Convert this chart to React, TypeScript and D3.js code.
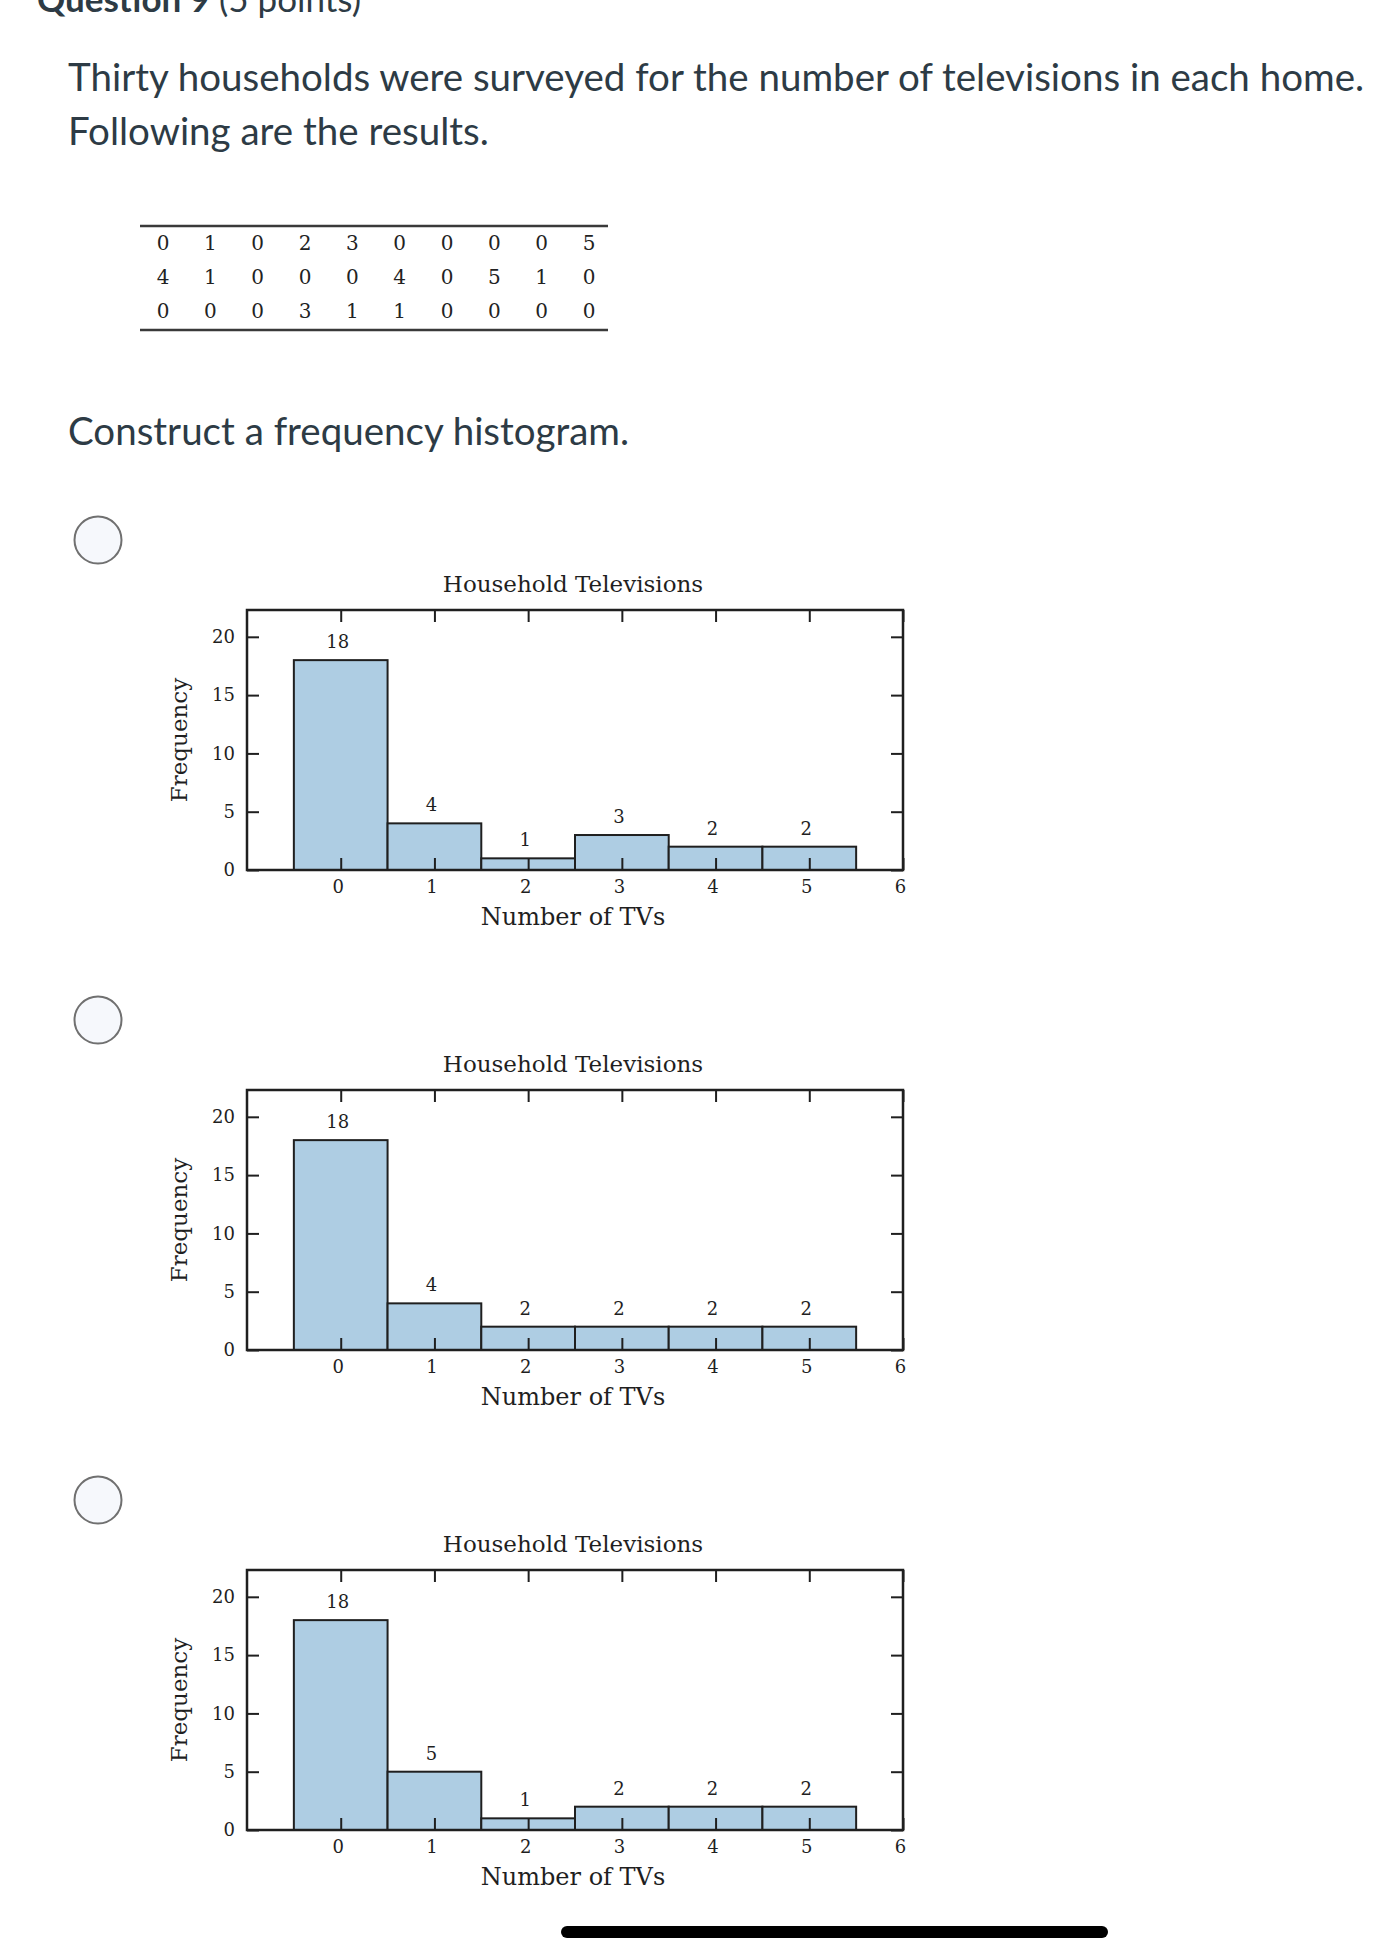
import * as d3 from 'd3';
import { useRef, useEffect } from 'react';

// survey data as printed in the question
const tableRows = [
    [0, 1, 0, 2, 3, 0, 0, 0, 0, 5],
    [4, 1, 0, 0, 0, 4, 0, 5, 1, 0],
    [0, 0, 0, 3, 1, 1, 0, 0, 0, 0],
];

// the three answer choices (frequency per number of TVs)
const tvValues = [0, 1, 2, 3, 4, 5];
const optionA = [18, 4, 1, 3, 2, 2];
const optionB = [18, 4, 2, 2, 2, 2];
const optionC = [18, 5, 1, 2, 2, 2];
const options = [optionA, optionB, optionC];

const xTicks = [0, 1, 2, 3, 4, 5, 6];
const yTicks = [0, 5, 10, 15, 20];

const App = () => {
    const svgRef = useRef<SVGSVGElement | null>(null);

    useEffect(() => {
        const svg = d3.select(svgRef.current);
        svg.selectAll('*').remove();

        const textColor = '#2d3b45';
        const lato = 'Lato, sans-serif';
        const serif = '"DejaVu Serif", serif';
        const ink = '#1f1f1f';

        // question header (cut off at top, like the screenshot)
        const q = svg.append('text')
            .attr('x', 37).attr('y', 12)
            .attr('font-family', lato).attr('font-size', 35)
            .attr('fill', textColor);
        q.append('tspan').attr('font-weight', 700).text('Question 9');
        q.append('tspan').text(' (5 points)');

        const intro = [
            'Thirty households were surveyed for the number of televisions in each home.',
            'Following are the results.',
        ];
        svg.selectAll('text.intro')
            .data(intro)
            .enter()
            .append('text')
            .attr('class', 'intro')
            .attr('x', 68)
            .attr('y', (_, i) => 91 + i * 54)
            .attr('font-family', lato).attr('font-size', 38.5)
            .attr('fill', textColor)
            .text(d => d);

        // data table
        const colX = d3.scalePoint<number>().domain(d3.range(10)).range([163, 589]);
        const rowY = d3.scalePoint<number>().domain(d3.range(3)).range([243, 311]);
        [226, 330].forEach(yy => {
            svg.append('line')
                .attr('x1', 140).attr('x2', 608)
                .attr('y1', yy).attr('y2', yy)
                .attr('stroke', '#3a3a3a').attr('stroke-width', 2.5);
        });
        tableRows.forEach((row, r) => {
            svg.selectAll(`text.row${r}`)
                .data(row)
                .enter()
                .append('text')
                .attr('class', `row${r}`)
                .attr('x', (_, c) => colX(c)!)
                .attr('y', rowY(r)! + 7)
                .attr('text-anchor', 'middle')
                .attr('font-family', serif).attr('font-size', 20)
                .attr('fill', '#222')
                .text(d => d);
        });

        svg.append('text')
            .attr('x', 68).attr('y', 445)
            .attr('font-family', lato).attr('font-size', 38.5)
            .attr('fill', textColor)
            .text('Construct a frequency histogram.');

        // histograms
        const width = 656;
        const height = 260;
        const x = d3.scaleLinear().domain([-1, 6]).range([0, width]);
        const y = d3.scaleLinear().domain([0, 22.3]).range([height, 0]);

        options.forEach((counts, i) => {
            const top = 610 + 480 * i;

            // radio button
            svg.append('circle')
                .attr('cx', 98).attr('cy', 540 + 480 * i).attr('r', 23.5)
                .attr('fill', '#f6f8fc')
                .attr('stroke', '#707070').attr('stroke-width', 2);

            const g = svg.append('g').attr('transform', `translate(247,${top})`);

            g.append('text')
                .attr('x', width / 2 - 2).attr('y', -18)
                .attr('text-anchor', 'middle')
                .attr('font-family', serif).attr('font-size', 23)
                .attr('fill', ink)
                .text('Household Televisions');

            g.selectAll('rect.bar')
                .data(counts)
                .enter()
                .append('rect')
                .attr('class', 'bar')
                .attr('x', (_, j) => x(tvValues[j] - 0.5))
                .attr('y', d => y(d))
                .attr('width', x(0.5) - x(-0.5))
                .attr('height', d => y(0) - y(d))
                .attr('fill', '#aecde3')
                .attr('stroke', ink)
                .attr('stroke-width', 2);

            g.selectAll('text.count')
                .data(counts)
                .enter()
                .append('text')
                .attr('class', 'count')
                .attr('x', (_, j) => x(tvValues[j]) - 3)
                .attr('y', d => y(d) - 12)
                .attr('text-anchor', 'middle')
                .attr('font-family', serif).attr('font-size', 18)
                .attr('fill', ink)
                .text(d => d);

            const style = (a: any) => {
                a.select('.domain').remove();
                a.attr('color', ink);
                a.selectAll('.tick line').attr('stroke-width', 2);
                a.selectAll('.tick text')
                    .attr('font-family', serif)
                    .attr('font-size', 18)
                    .attr('fill', ink);
            };

            const bottom = g.append('g')
                .attr('transform', `translate(0,${height})`)
                .call(d3.axisBottom(x).tickValues(xTicks).tickSizeInner(-12).tickSizeOuter(0).tickPadding(10).tickFormat(d3.format('d')))
                .call(style);
            bottom.selectAll('.tick text').attr('dx', -3);

            g.append('g')
                .call(d3.axisTop(x).tickValues(xTicks).tickSizeInner(-12).tickSizeOuter(0).tickFormat(() => ''))
                .call(style);

            g.append('g')
                .call(d3.axisLeft(y).tickValues(yTicks).tickSizeInner(-12).tickSizeOuter(0).tickPadding(12))
                .call(style);

            g.append('g')
                .attr('transform', `translate(${width},0)`)
                .call(d3.axisRight(y).tickValues(yTicks).tickSizeInner(-12).tickSizeOuter(0).tickFormat(() => ''))
                .call(style);

            g.append('rect')
                .attr('width', width).attr('height', height)
                .attr('fill', 'none')
                .attr('stroke', ink).attr('stroke-width', 2.5);

            g.append('text')
                .attr('x', width / 2 - 2).attr('y', height + 55)
                .attr('text-anchor', 'middle')
                .attr('font-family', serif).attr('font-size', 24)
                .attr('fill', ink)
                .text('Number of TVs');

            g.append('text')
                .attr('transform', `translate(-60,${height / 2}) rotate(-90)`)
                .attr('text-anchor', 'middle')
                .attr('font-family', serif).attr('font-size', 23)
                .attr('fill', ink)
                .text('Frequency');
        });

        // scrollbar-like bar at the bottom
        svg.append('rect')
            .attr('x', 561).attr('y', 1926)
            .attr('width', 547).attr('height', 12)
            .attr('rx', 6)
            .attr('fill', '#000');
    }, []);

    return (
        <svg
            ref={svgRef}
            width={1397}
            height={1946}
            style={{ position: 'absolute', left: 0, top: 0, background: '#fff' }}
        />
    );
};

export default App;
